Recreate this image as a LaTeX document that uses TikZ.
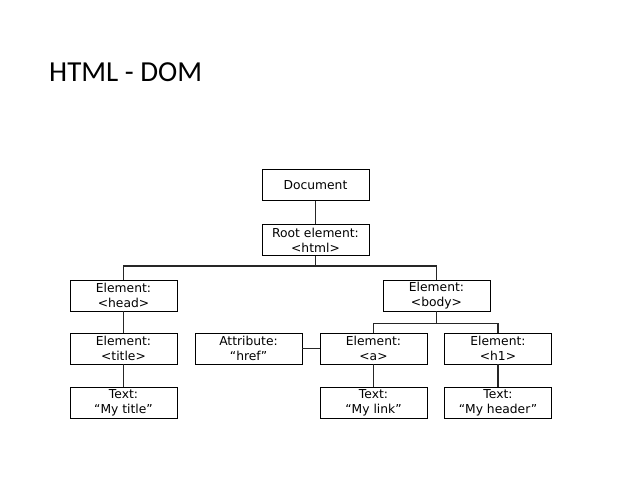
\documentclass[tikz,border=0pt]{standalone}
\usepackage{fontspec}
\setmainfont{DejaVu Sans}
\newfontfamily\titlefont{Carlito}
\begin{document}
\begin{tikzpicture}[x=1pt,y=-1pt,
  box/.style={draw=black,line width=0.9pt,minimum width=107pt,minimum height=31pt,inner sep=0pt,align=center,font=\fontsize{12.3}{15}\selectfont},
  link/.style={draw=black!85,line width=1.2pt}]
\useasboundingbox[fill=white] (0,0) rectangle (638,478);
\node[anchor=west,font=\titlefont\fontsize{29}{32}\selectfont,inner sep=0pt] (title) at (49,72) {HTML - DOM};
\node[box] (doc) at (315.5,185) {Document};
\node[box] (root) at (315.5,240) {Root element:\\<html>};
\node[box] (head) at (123.5,295.5) {Element:\\<head>};
\node[box] (body) at (436.5,295.5) {Element:\\<body>};
\node[box] (ttl) at (123.5,348.5) {Element:\\<title>};
\node[box] (attr) at (248.5,348.5) {Attribute:\\“href”};
\node[box] (a) at (373.5,348.5) {Element:\\<a>};
\node[box] (h1) at (498,348.5) {Element:\\<h1>};
\node[box] (t1) at (123.5,403) {Text:\\“My title”};
\node[box] (t2) at (373.5,403) {Text:\\“My link”};
\node[box] (t3) at (498,403) {Text:\\“My header”};
\coordinate (rj) at ([yshift=-10pt]root.south);
\coordinate (bj) at ([yshift=-12pt]body.south);
\draw[link] (doc.south) -- (root.north);
\draw[link] (root.south) -- (rj);
\draw[link] (head.north) |- (rj) -| (body.north);
\draw[link] (head.south) -- (ttl.north);
\draw[link] (ttl.south) -- (t1.north);
\draw[link] (body.south) -- (bj);
\draw[link] (a.north) |- (bj) -| (h1.north);
\draw[link] (attr.east) -- (a.west);
\draw[link] (a.south) -- (t2.north);
\draw[link] (h1.south) -- (t3.north);
\end{tikzpicture}
\end{document}
